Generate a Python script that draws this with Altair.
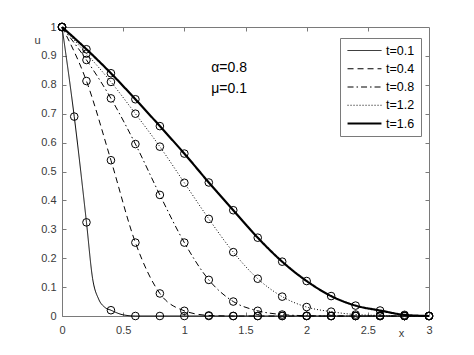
import altair as alt
import pandas as pd

# ---- data ----
series = ["t=0.1", "t=0.4", "t=0.8", "t=1.2", "t=1.6"]
x_grid = [0.0, 0.2, 0.4, 0.6, 0.8, 1.0, 1.2, 1.4, 1.6, 1.8, 2.0, 2.2, 2.4, 2.6, 2.8, 3.0]

x_t01 = [0.0, 0.1, 0.2, 0.4, 0.6, 0.8, 1.0, 1.2, 1.4, 1.6, 1.8, 2.0, 2.2, 2.4, 2.6, 2.8, 3.0]
u_t01 = [1.0, 0.69, 0.324, 0.02, 0, 0, 0, 0, 0, 0, 0, 0, 0, 0, 0, 0, 0]
# extra points along the t=0.1 curve (line only)
x_t01_line_extra = [0.25, 0.3, 0.35, 0.5]
u_t01_line_extra = [0.13, 0.058, 0.03, 0.004]

u_t04 = [1.0, 0.813, 0.539, 0.254, 0.078, 0.018, 0.002, 0, 0, 0, 0, 0, 0, 0, 0, 0]
u_t08 = [1.0, 0.886, 0.753, 0.595, 0.419, 0.254, 0.125, 0.05, 0.018, 0.005, 0.001, 0, 0, 0, 0, 0]
u_t12 = [1.0, 0.908, 0.81, 0.70, 0.586, 0.461, 0.336, 0.221, 0.129, 0.067, 0.031, 0.015, 0.005, 0.002, 0, 0]
u_t16 = [1.0, 0.923, 0.84, 0.75, 0.657, 0.562, 0.462, 0.366, 0.271, 0.188, 0.121, 0.069, 0.036, 0.019, 0.004, 0.0]

ann_x = [1.22, 1.22]
ann_y = [0.858, 0.787]
ann_text = ["α=0.8", "μ=0.1"]

dashes = [[1, 0], [6, 4], [6, 3, 1.5, 3], [1, 2], [1, 0]]
widths = [1.0, 1.0, 1.0, 1.0, 2.2]

# ---- tables ----
pts_rows = []
for xi, ui in zip(x_t01, u_t01):
    pts_rows.append({"x": xi, "u": ui, "series": "t=0.1"})
for name, vals in zip(series[1:], [u_t04, u_t08, u_t12, u_t16]):
    for xi, ui in zip(x_grid, vals):
        pts_rows.append({"x": xi, "u": ui, "series": name})
pts = pd.DataFrame(pts_rows)

line_rows = list(pts_rows)
for xi, ui in zip(x_t01_line_extra, u_t01_line_extra):
    line_rows.append({"x": xi, "u": ui, "series": "t=0.1"})
lines_df = pd.DataFrame(line_rows).sort_values(["series", "x"])

ann = pd.DataFrame({"x": ann_x, "u": ann_y, "label": ann_text})

FONT = "Liberation Sans"
LAB = "#3a3a3a"
FRAME = "#7a7a7a"

xscale = alt.Scale(domain=[0, 3], nice=False, zero=False)
yscale = alt.Scale(domain=[0, 1], nice=False, zero=False)

x_axis_bottom = alt.Axis(
    values=[0, 0.5, 1, 1.5, 2, 2.5, 3], format="~g", orient="bottom", offset=-4,
    tickSize=4, tickColor=FRAME, domain=False, grid=False, labelPadding=8, labelFlush=False,
    labelFont=FONT, labelFontSize=11, labelColor=LAB,
    title="x", titleFont=FONT, titleFontSize=11, titleFontWeight="normal", titleColor=LAB,
    titleX=339, titleY=21, titleAlign="center", titleBaseline="middle",
)
y_axis_left = alt.Axis(
    values=[0, 0.1, 0.2, 0.3, 0.4, 0.5, 0.6, 0.7, 0.8, 0.9, 1], format="~g", orient="left",
    offset=-4, tickSize=4, tickColor=FRAME, domain=False, grid=False, labelPadding=6,
    labelFlush=False, labelFont=FONT, labelFontSize=11, labelColor=LAB,
    title="u", titleFont=FONT, titleFontSize=11, titleFontWeight="normal", titleColor=LAB,
    titleAngle=0, titleX=-29, titleY=13, titleAlign="center", titleBaseline="middle",
)
x_axis_top = alt.Axis(
    values=[0.5, 1, 1.5, 2, 2.5], orient="top", offset=-4, tickSize=4, tickColor=FRAME,
    domain=False, grid=False, labels=False, title=None,
)
y_axis_right = alt.Axis(
    values=[0.1, 0.2, 0.3, 0.4, 0.5, 0.6, 0.7, 0.8, 0.9], orient="right", offset=-4,
    tickSize=4, tickColor=FRAME, domain=False, grid=False, labels=False, title=None,
)

legend = alt.Legend(
    title=None, orient="none", legendX=278, legendY=11, symbolType="stroke",
    symbolSize=1150, symbolStrokeColor="black", labelFont=FONT, labelFontSize=12.5,
    labelColor="black", labelOffset=3, rowPadding=5.25, padding=6, clipHeight=13,
    strokeColor=FRAME, fillColor="white",
)

lines = alt.Chart(lines_df).mark_line(color="black", interpolate="monotone").encode(
    x=alt.X("x:Q", scale=xscale, axis=x_axis_bottom),
    y=alt.Y("u:Q", scale=yscale, axis=y_axis_left),
    strokeDash=alt.StrokeDash("series:N", scale=alt.Scale(domain=series, range=dashes),
                              legend=legend, sort=series),
    strokeWidth=alt.StrokeWidth("series:N",
                                scale=alt.Scale(type="ordinal", domain=series, range=widths),
                                legend=legend, sort=series),
    detail="series:N",
)

points = alt.Chart(pts).mark_point(shape="circle", filled=False, color="black",
                                   size=58, strokeWidth=1, opacity=1).encode(
    x=alt.X("x:Q", scale=xscale, axis=x_axis_top),
    y=alt.Y("u:Q", scale=yscale, axis=y_axis_right),
    detail="series:N",
)

texts = alt.Chart(ann).mark_text(font=FONT, fontSize=14, align="left",
                                 baseline="middle", color="black").encode(
    x=alt.X("x:Q", scale=xscale, axis=None),
    y=alt.Y("u:Q", scale=yscale, axis=None),
    text="label:N",
)

chart = alt.layer(lines, points, texts).resolve_axis(
    x="independent", y="independent"
).properties(
    width=367, height=289,
    autosize=alt.AutoSizeParams(type="none"),
    padding={"left": 62, "top": 27, "right": 45, "bottom": 39},
    background="white",
).configure_view(stroke=FRAME, strokeWidth=1)

chart.save("out.html", embed_options={"renderer": "svg", "actions": False})
